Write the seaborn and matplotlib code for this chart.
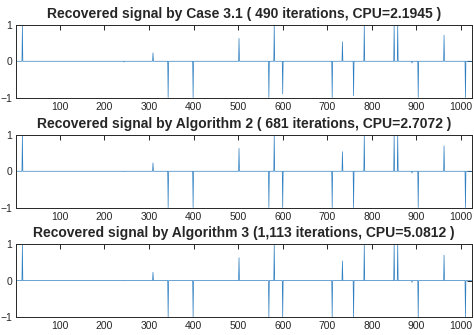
import matplotlib
matplotlib.use('Agg')
import matplotlib.pyplot as plt
import seaborn as sns
import numpy as np
import pandas as pd

sns.set_style('white')
plt.rcParams['font.family'] = ['Liberation Sans', 'DejaVu Sans']

n = 1024
positions = [16, 244, 309, 343, 399, 502, 569, 581, 600, 711, 734, 759, 783, 850, 858, 890, 904, 962, 1010]
case31 = [1.0, -0.02, 0.23, -1.0, -1.0, 0.63, -1.0, 1.0, -0.9, -1.0, 0.54, -0.95, 1.0, 1.0, 1.0, -0.05, -1.0, 0.72, -1.0]
alg2 = [1.0, -0.01, 0.23, -1.0, -1.0, 0.63, -1.0, 1.0, -1.0, -1.0, 0.54, -1.0, 1.0, 1.0, 1.0, -0.05, -1.0, 0.70, -1.0]
alg3 = [1.0, -0.01, 0.23, -1.0, -1.0, 0.63, -1.0, 1.0, -1.0, -1.0, 0.54, -1.0, 1.0, 1.0, 1.0, -0.05, -1.0, 0.70, -1.0]
titles = ['Recovered signal by Case 3.1 ( 490 iterations, CPU=2.1945 )',
          'Recovered signal by Algorithm 2 ( 681 iterations, CPU=2.7072 )',
          'Recovered signal by Algorithm 3 (1,113 iterations, CPU=5.0812 )']
xticks = [100, 200, 300, 400, 500, 600, 700, 800, 900, 1000]

fig = plt.figure(figsize=(4.74, 3.35), dpi=100)
tops = [25, 135, 244.3]
h = 72.5
for top, vals, title in zip(tops, [case31, alg2, alg3], titles):
    ax = fig.add_axes([15.7 / 474, 1 - (top + h) / 335, 456 / 474, h / 335])
    sig = np.zeros(n)
    sig[np.array(positions) - 1] = vals
    df = pd.DataFrame({'i': np.arange(1, n + 1), 'x': sig})
    sns.lineplot(data=df, x='i', y='x', ax=ax, color='#2f7fc0', linewidth=0.5)
    ax.set_xlim(1, 1024)
    ax.set_ylim(-1, 1)
    ax.set_xticks(xticks)
    ax.set_yticks([-1, 0, 1])
    ax.set_xlabel('')
    ax.set_ylabel('')
    ax.tick_params(direction='in', length=3.5, width=0.7, labelsize=7.5,
                   top=True, right=True, pad=3, colors='#262626')
    ax.tick_params(axis='y', pad=2.5)
    for s in ax.spines.values():
        s.set_color('#262626')
        s.set_linewidth(0.7)
    ax.set_title(title, fontsize=10, fontweight='bold', pad=5)

fig.savefig('out.png', dpi=100)
